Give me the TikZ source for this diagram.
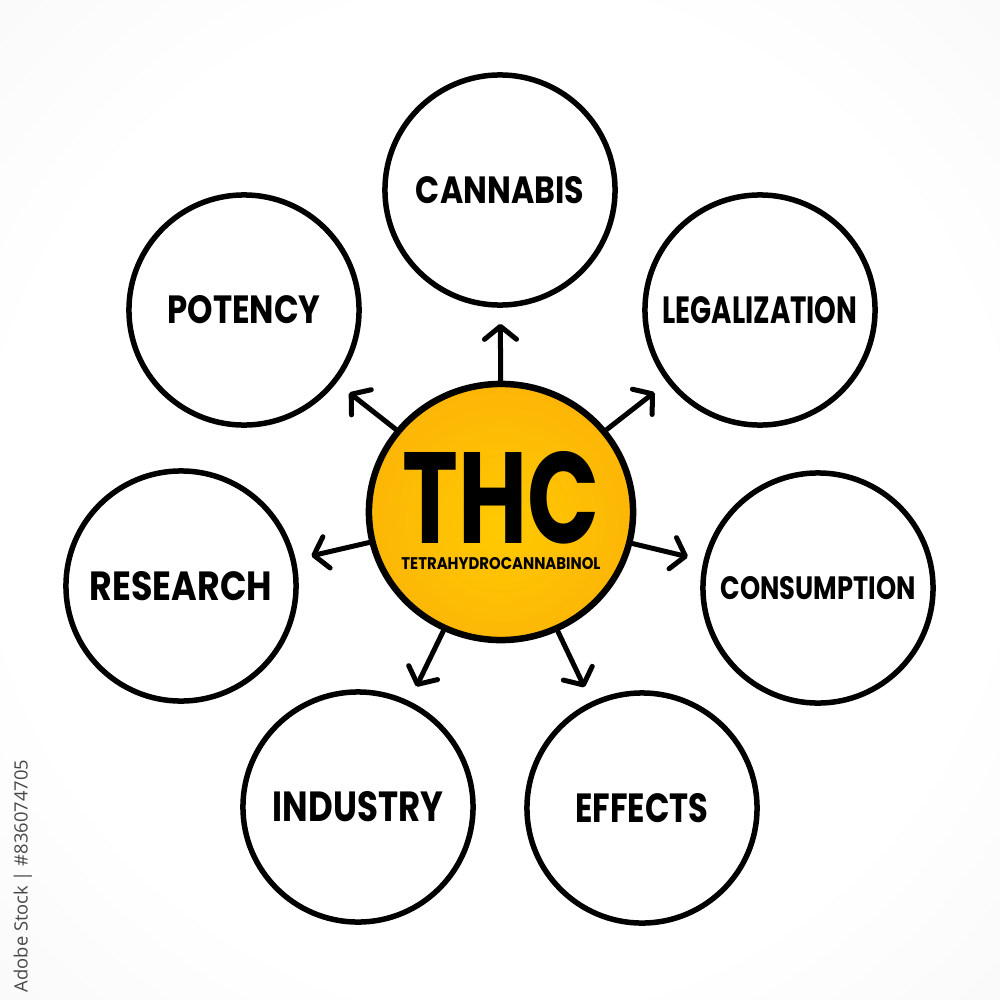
\documentclass[tikz,border=0pt]{standalone}
\usepackage{fontspec}
\usepackage{graphicx}
\setmainfont{Poppins}
\newfontfamily\wmfont{Open Sans}
\usetikzlibrary{arrows.meta,shapes.geometric}
\pgfdeclareradialshading{thcball}{\pgfpoint{0bp}{-3bp}}{rgb(0bp)=(1,0.79,0.0); rgb(30bp)=(0.99,0.70,0.03); rgb(50bp)=(0.96,0.58,0.05)}
\pgfdeclareradialshading{vignette}{\pgfpoint{0bp}{0bp}}{rgb(0bp)=(1,1,1); rgb(25bp)=(1,1,1); rgb(50bp)=(0.95,0.95,0.95); rgb(72bp)=(0.90,0.90,0.90)}
\newcommand{\lbl}[3]{\resizebox{#1}{#2}{\bfseries #3}}
\begin{document}
\begin{tikzpicture}[x=0.01cm,y=-0.01cm,
  topic/.style={circle, draw=black, line width=0.055cm, minimum size=2.30cm, inner sep=0pt},
  hub/.style={ellipse, draw=black, line width=0.065cm, minimum width=2.64cm, minimum height=2.56cm, inner sep=0pt, shade, shading=thcball},
  arr/.style={line width=0.05cm, line cap=round, -{Straight Barb[length=0.13cm, width=0.32cm, round]}, shorten >=0.16cm},
  txt/.style={inner sep=0pt, text=black}]
\useasboundingbox (0,0) rectangle (1000,1000);
\shade[shading=vignette] (0,0) rectangle (1000,1000);

\node[hub] (thc) at (501,512) {};
\node[txt] (thct) at (501,498) {\lbl{1.97cm}{0.92cm}{THC}};
\node[txt] (thcsub) at (501,564) {\lbl{1.99cm}{0.12cm}{TETRAHYDROCANNABINOL}};

\node[topic] (cannabis) at (500,190) {\lbl{1.68cm}{0.27cm}{CANNABIS}};
\node[topic] (legal) at (760,310) {\lbl{1.95cm}{0.27cm}{LEGALIZATION}};
\node[topic] (consum) at (818,588) {\lbl{1.95cm}{0.23cm}{CONSUMPTION}};
\node[topic] (effects) at (642,808) {\lbl{1.33cm}{0.29cm}{EFFECTS}};
\node[topic] (industry) at (358,807) {\lbl{1.70cm}{0.30cm}{INDUSTRY}};
\node[topic] (research) at (181,586) {\lbl{1.82cm}{0.29cm}{RESEARCH}};
\node[topic] (potency) at (244,310) {\lbl{1.53cm}{0.28cm}{POTENCY}};

\foreach \t in {cannabis,legal,consum,effects,industry,research,potency}
  \draw[arr] (thc) -- (\t);

\node[txt, rotate=90, text=black!72] (wm) at (23,876) {\resizebox{2.32cm}{!}{\wmfont Adobe Stock | \#836074705}};
\end{tikzpicture}
\end{document}
